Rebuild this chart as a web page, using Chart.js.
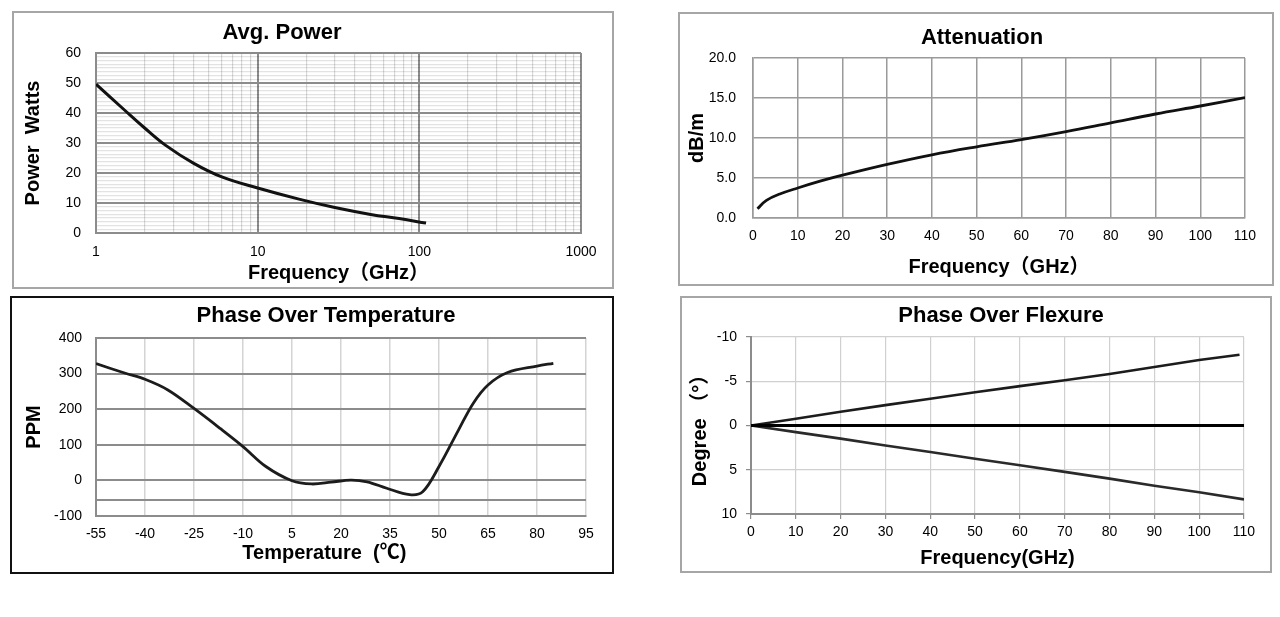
<!DOCTYPE html>
<html>
<head>
<meta charset="utf-8">
<script src="https://cdn.jsdelivr.net/npm/chart.js@4.4.1/dist/chart.umd.min.js"></script>
<style>
  body { margin: 0; background: #fff; width: 1280px; height: 617px; position: relative; overflow: hidden;
         font-family: "Liberation Sans", Arial, "Noto Sans CJK SC", sans-serif; }
  .panel { position: absolute; border: 2px solid #a6a6a6; }
  .panel canvas { position: absolute; left: 0; top: 0; }
  .ttl { position: absolute; font-weight: bold; font-size: 22px; transform: translate(-50%, -50%);
         white-space: nowrap; color: #000; }
</style>
</head>
<body>
<div class="panel" style="left:12px;top:11px;width:598px;height:274px">
  <canvas id="power" width="598" height="274"></canvas>
  <div class="ttl" style="left:268px;top:19px">Avg. Power</div>
</div>
<div class="panel" style="left:678px;top:12px;width:592px;height:270px">
  <canvas id="atten" width="592" height="270"></canvas>
  <div class="ttl" style="left:302px;top:23px">Attenuation</div>
</div>
<div class="panel" style="left:10px;top:296px;width:600px;height:274px;border-color:#111">
  <canvas id="temp" width="600" height="274"></canvas>
  <div class="ttl" style="left:314px;top:17px">Phase Over Temperature</div>
</div>
<div class="panel" style="left:680px;top:296px;width:588px;height:273px">
  <canvas id="flex" width="588" height="273"></canvas>
  <div class="ttl" style="left:319px;top:17px">Phase Over Flexure</div>
</div>
<script>
// Avg. Power (log frequency axis)
const powerFreq = [1, 1.5, 2, 2.7, 4, 6, 10, 18, 30, 50, 75, 110];
const powerWatts = [49.6, 41.0, 35, 29.2, 23.3, 18.7, 15.0, 11.3, 8.5, 6.2, 4.8, 3.3];
const powerXTicks = [1, 2, 3, 4, 5, 6, 7, 8, 9, 10, 20, 30, 40, 50, 60, 70, 80, 90,
  100, 200, 300, 400, 500, 600, 700, 800, 900, 1000];
const powerXLabels = [1, 10, 100, 1000];
const powerYLabels = [0, 10, 20, 30, 40, 50, 60];
const powerYMinor = 1.25;

// Attenuation
const attFreq = [1, 3, 6, 10, 15, 20, 30, 40, 50, 60, 70, 80, 90, 100, 110];
const attDb = [1.15, 2.2, 3.0, 3.75, 4.6, 5.35, 6.7, 7.9, 8.9, 9.8, 10.8, 11.9, 13.0, 14.0, 15.05];
const attXTicks = [0, 10, 20, 30, 40, 50, 60, 70, 80, 90, 100, 110];
const attYTicks = [0, 5, 10, 15, 20];

// Phase over temperature
const tempC = [-55, -46, -40, -33, -25, -17, -10, -3, 5, 11, 17, 23, 28, 34, 41, 45, 50, 56, 60.5, 65, 71, 80, 85];
const tempPpm = [328, 301, 284, 254, 202, 146, 95, 39, -1, -10, -5, 1, -4, -22, -40, -32, 39, 142, 217, 268, 303, 321, 329];
const tempXTicks = [-55, -40, -25, -10, 5, 20, 35, 50, 65, 80, 95];
const tempYTicks = [-100, -55, 0, 100, 200, 300, 400];
const tempYLabels = [-100, 0, 100, 200, 300, 400];

// Phase over flexure
const flexFreqUpper = [0, 10, 20, 30, 40, 50, 60, 70, 80, 90, 100, 109];
const flexUpper = [0, -0.77, -1.55, -2.3, -3.03, -3.76, -4.45, -5.12, -5.82, -6.6, -7.4, -8.0];
const flexFreqLower = [0, 10, 20, 30, 40, 50, 60, 70, 80, 90, 100, 110];
const flexLower = [0, 0.75, 1.48, 2.25, 3.0, 3.76, 4.5, 5.24, 6.0, 6.8, 7.55, 8.35];
const flexFreqZero = [0, 110];
const flexZero = [0, 0];
const flexXTicks = [0, 10, 20, 30, 40, 50, 60, 70, 80, 90, 100, 110];
const flexYTicks = [-10, -5, 0, 5, 10];

const FAMILY = '"Liberation Sans", Arial, "Noto Sans CJK SC", sans-serif';
const tickFont = { family: FAMILY, size: 14 };
const axisFont = { family: FAMILY, size: 20, weight: 'bold' };
const DARK = '#8c8c8c';
const LIGHT = '#d0d0d0';
const MINOR = 'rgba(0,0,0,0.15)';

const toPoints = (xs, ys) => xs.map((x, i) => ({ x: x, y: ys[i] }));
const setTicks = (list) => (scale) => { scale.ticks = list.map(v => ({ value: v })); };
const tickVal = (ctx) => (ctx.tick ? ctx.tick.value : null);

const line = (xs, ys, width, color, tension) => ({
  data: toPoints(xs, ys),
  borderColor: color || '#111',
  borderWidth: width || 2.5,
  pointRadius: 0,
  fill: false,
  tension: tension === undefined ? 0.4 : tension
});

const axisTitle = (text, pad) => ({
  display: true, text: text, font: axisFont, color: '#000', padding: pad
});

const makeChart = (id, datasets, scales, top, right) => new Chart(document.getElementById(id), {
  type: 'line',
  data: { datasets: datasets },
  options: {
    responsive: false,
    animation: false,
    devicePixelRatio: 1,
    layout: { padding: { top: top, right: right, left: 0, bottom: 0 } },
    plugins: { legend: { display: false }, tooltip: { enabled: false } },
    scales: scales
  }
});

makeChart('power', [line(powerFreq, powerWatts, 3)], {
  x: {
    type: 'logarithmic', min: 1, max: 1000,
    afterBuildTicks: setTicks(powerXTicks),
    afterFit: (s) => { s.height = 54; },
    ticks: { autoSkip: false, maxRotation: 0, padding: 11, color: '#000', font: tickFont,
      callback: (v) => (powerXLabels.includes(v) ? String(v) : '') },
    grid: { drawTicks: false,
      color: (ctx) => (powerXLabels.includes(tickVal(ctx)) ? DARK : MINOR),
      lineWidth: (ctx) => (powerXLabels.includes(tickVal(ctx)) ? 2 : 1.2) },
    border: { color: DARK, width: 2 },
    title: axisTitle('Frequency（GHz）', { top: 0, bottom: 2 })
  },
  y: {
    type: 'linear', min: 0, max: 60,
    afterBuildTicks: (s) => {
      const t = [];
      for (let v = 0; v <= 60; v += powerYMinor) t.push({ value: v });
      s.ticks = t;
    },
    afterFit: (s) => { s.width = 82; },
    ticks: { autoSkip: false, padding: 15, color: '#000', font: tickFont,
      callback: (v) => (powerYLabels.includes(v) ? String(v) : '') },
    grid: { drawTicks: false,
      color: (ctx) => (powerYLabels.includes(tickVal(ctx)) ? DARK : 'rgba(0,0,0,0.11)'),
      lineWidth: (ctx) => (powerYLabels.includes(tickVal(ctx)) ? 2 : 1.2) },
    border: { color: DARK, width: 2 },
    title: axisTitle('Power  Watts', { top: 7, bottom: 0 })
  }
}, 40, 31);

makeChart('atten', [line(attFreq, attDb, 2.8)], {
  x: {
    type: 'linear', min: 0, max: 110,
    afterBuildTicks: setTicks(attXTicks),
    afterFit: (s) => { s.height = 66; },
    ticks: { autoSkip: false, maxRotation: 0, padding: 10, color: '#000', font: tickFont },
    grid: { drawTicks: false, color: '#9a9a9a', lineWidth: 1.5 },
    border: { color: '#9a9a9a', width: 1.5 },
    title: axisTitle('Frequency（GHz）', { top: 0, bottom: 5 })
  },
  y: {
    type: 'linear', min: 0, max: 20,
    afterBuildTicks: setTicks(attYTicks),
    afterFit: (s) => { s.width = 73; },
    ticks: { autoSkip: false, padding: 17, color: '#000', font: tickFont,
      callback: (v) => v.toFixed(1) },
    grid: { drawTicks: false, color: '#9a9a9a', lineWidth: 1.5 },
    border: { color: '#9a9a9a', width: 1.5 },
    title: axisTitle('dB/m', { top: 5, bottom: 0 })
  }
}, 44, 27);

makeChart('temp', [line(tempC, tempPpm, 2.8, '#1c1c1c', 0.35)], {
  x: {
    type: 'linear', min: -55, max: 95,
    afterBuildTicks: setTicks(tempXTicks),
    afterFit: (s) => { s.height = 56; },
    ticks: { autoSkip: false, maxRotation: 0, padding: 10, color: '#000', font: tickFont },
    grid: { drawTicks: false, color: '#d4d4d4', lineWidth: 1.5 },
    border: { color: DARK, width: 2 },
    title: axisTitle('Temperature  (℃)      ', { top: 0, bottom: 7 })
  },
  y: {
    type: 'linear', min: -100, max: 400,
    afterBuildTicks: setTicks(tempYTicks),
    afterFit: (s) => { s.width = 84; },
    ticks: { autoSkip: false, padding: 14, color: '#000', font: tickFont,
      callback: (v) => (tempYLabels.includes(v) ? String(v) : '') },
    grid: { drawTicks: false, color: DARK, lineWidth: 2 },
    border: { color: DARK, width: 2 },
    title: axisTitle('PPM', { top: 10, bottom: 0 })
  }
}, 40, 26);

makeChart('flex', [
  line(flexFreqZero, flexZero, 3, '#000', 0),
  line(flexFreqUpper, flexUpper, 2.6, '#1c1c1c', 0),
  line(flexFreqLower, flexLower, 2.6, '#2a2a2a', 0)
], {
  x: {
    type: 'linear', min: 0, max: 110,
    afterBuildTicks: setTicks(flexXTicks),
    afterFit: (s) => { s.height = 57; },
    ticks: { autoSkip: false, maxRotation: 0, padding: 5, color: '#000', font: tickFont },
    grid: { drawTicks: true, tickLength: 5, tickColor: DARK, color: LIGHT, lineWidth: 1.2 },
    border: { color: DARK, width: 2 },
    title: axisTitle('Frequency(GHz)', { top: 0, bottom: 1 })
  },
  y: {
    type: 'linear', min: -10, max: 10, reverse: true,
    afterBuildTicks: setTicks(flexYTicks),
    afterFit: (s) => { s.width = 69; },
    ticks: { autoSkip: false, padding: 9, color: '#000', font: tickFont },
    grid: { drawTicks: true, tickLength: 5, tickColor: DARK, color: LIGHT, lineWidth: 1.2 },
    border: { color: DARK, width: 2 },
    title: axisTitle('Degree （°）', { top: 6, bottom: 0 })
  }
}, 39, 26);
</script>
</body>
</html>
